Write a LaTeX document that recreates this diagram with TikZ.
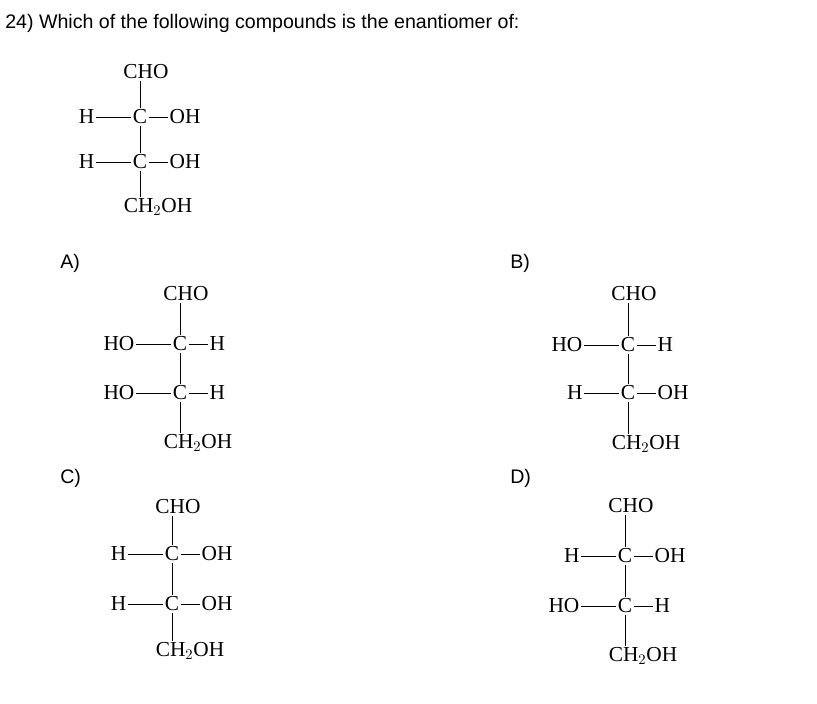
\documentclass[tikz,border=0pt]{standalone}
\usepackage{fontspec}
\setmainfont{Liberation Serif}
\newfontfamily\titlefont{Liberation Sans}
\newcommand\fischer[9]{%
 % #1 prefix, #2 x, #3 y (C1 row), #4 tl, #5 tr, #6 bl, #7 br, #8 row gap, #9 end gap
 \node[grp] (#1c1) at (#2,#3) {C};
 \node[grp] (#1c2) at (#2,#3+#8) {C};
 \node[grp] (#1top) at (#2+6,#3-#9) {CHO};
 \node[grp] (#1bot) at (#2+18,#3+#8+#9) {CH$_2$OH};
 \node[grp,anchor=east] (#1tl) at (#2-44,#3) {#4};
 \node[grp,anchor=west] (#1tr) at (#2+28,#3) {#5};
 \node[grp,anchor=east] (#1bl) at (#2-44,#3+#8) {#6};
 \node[grp,anchor=west] (#1br) at (#2+28,#3+#8) {#7};
 \draw[bond] (#1tl.east) -- (#1c1.west);
 \draw[bond] (#1c1.east) -- (#1tr.west);
 \draw[bond] (#1bl.east) -- (#1c2.west);
 \draw[bond] (#1c2.east) -- (#1br.west);
 \draw[bond] (#1top.south -| #1c1) -- (#1c1.north);
 \draw[bond] (#1c1.south) -- (#1c2.north);
 \draw[bond] (#1c2.south) -- (#1bot.north -| #1c2);
}
\begin{document}
\begin{tikzpicture}[x=0.75pt,y=-0.75pt,
 grp/.style={inner sep=1pt,font=\fontsize{16}{18}\selectfont},
 lab/.style={font=\titlefont\fontsize{14.7}{17}\selectfont,anchor=west,inner sep=0pt},
 bond/.style={line width=0.7pt}]
\useasboundingbox (0,0) rectangle (817,703);
\node[lab] (title) at (5,23) {24) Which of the following compounds is the enantiomer of:};
\fischer{q}{140}{117}{H}{OH}{H}{OH}{45}{45}
\node[lab] (la) at (60,263) {A)};
\node[lab] (lb) at (510,263) {B)};
\node[lab] (lc) at (60,478) {C)};
\node[lab] (ld) at (510,478) {D)};
\fischer{a}{180}{344}{HO}{H}{HO}{H}{49}{50}
\fischer{b}{628}{345}{HO}{H}{H}{OH}{48}{51}
\fischer{c}{172}{554}{H}{OH}{H}{OH}{50}{47}
\fischer{d}{625}{556}{H}{OH}{HO}{H}{50}{50}
\end{tikzpicture}
\end{document}
